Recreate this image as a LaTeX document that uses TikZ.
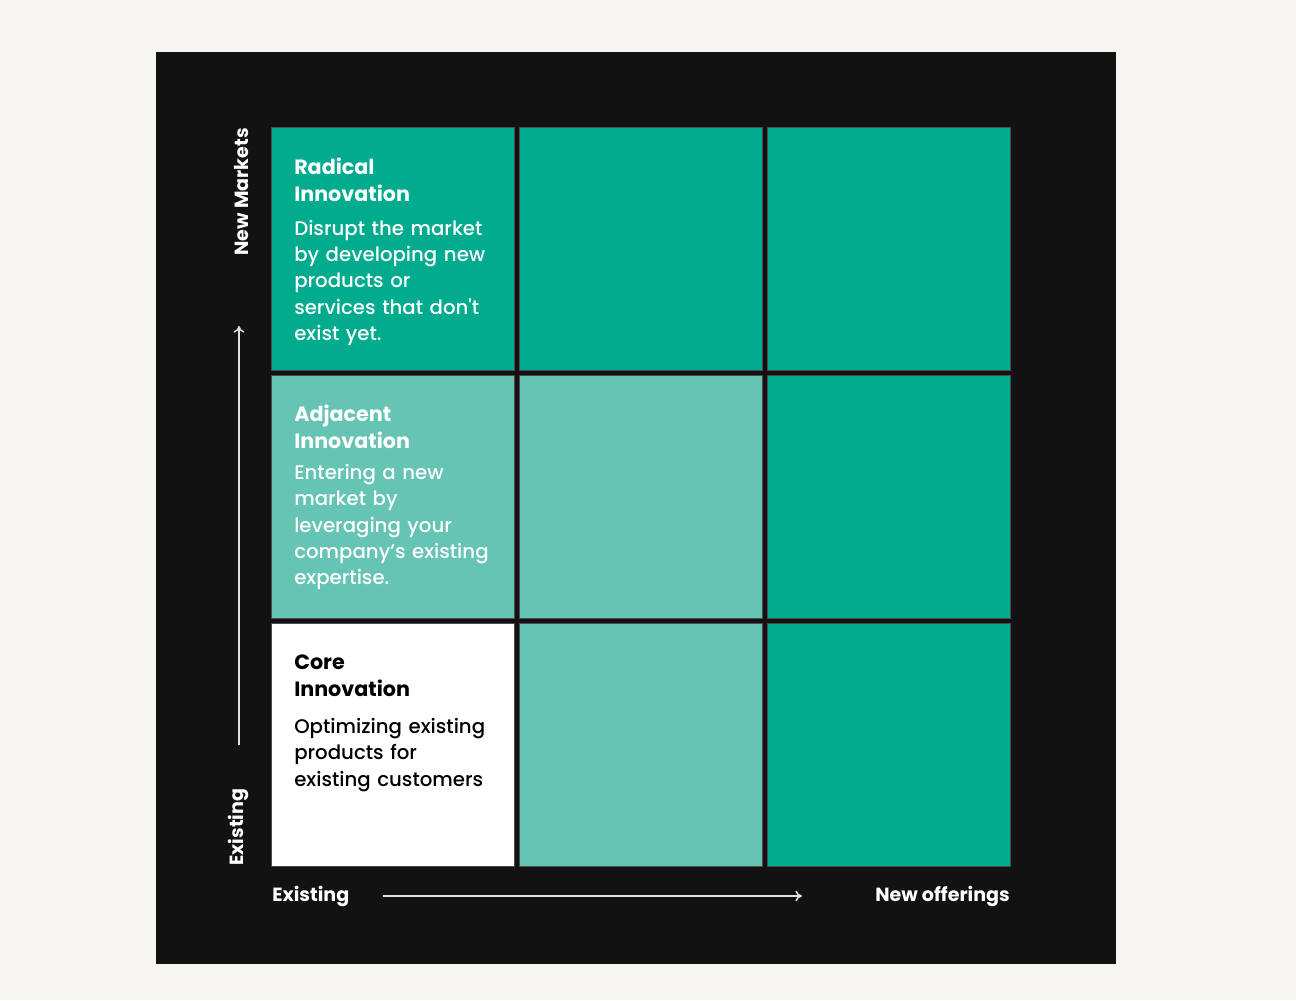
\documentclass[tikz,border=0pt]{standalone}
\usepackage{fontspec}
\setmainfont{Poppins}
\newfontfamily\bodyfont{Poppins Medium}
\usetikzlibrary{arrows.meta}
\definecolor{bgc}{HTML}{F8F6F1}
\definecolor{panel}{HTML}{121212}
\definecolor{dgreen}{HTML}{00AB8E}
\definecolor{lgreen}{HTML}{65C4B3}
\definecolor{arrowc}{HTML}{E0E0E0}
\begin{document}
\begin{tikzpicture}[x=0.75pt,y=-0.75pt,
  cell/.style={draw=black!70,line width=0.6pt,inner sep=0pt,minimum width=243*0.75pt,minimum height=243*0.75pt,anchor=north west},
  ttl/.style={anchor=north west,inner sep=0pt,align=left,text width=220*0.75pt,font={\fontsize{15.5}{20.2}\selectfont\bfseries}},
  body/.style={anchor=north west,inner sep=0pt,align=left,text width=225*0.75pt,font={\bodyfont\fontsize{14.8}{19.7}\selectfont}},
  axlab/.style={inner sep=0pt,text=white,font={\fontsize{14.3}{17}\selectfont\bfseries}},
  axarrow/.style={draw=arrowc,line width=1.1pt,-{To[length=5pt,width=8pt]}}]
\useasboundingbox (0,0) rectangle (1296,1000);
\fill[bgc] (0,0) rectangle (1296,1000);
\fill[panel] (156,52) rectangle (1116,964);
% cells
\node[cell,fill=dgreen] (c13) at (271,127) {};
\node[cell,fill=dgreen] (c23) at (519,127) {};
\node[cell,fill=dgreen] (c33) at (767,127) {};
\node[cell,fill=lgreen] (c12) at (271,375) {};
\node[cell,fill=lgreen] (c22) at (519,375) {};
\node[cell,fill=dgreen] (c32) at (767,375) {};
\node[cell,fill=white] (c11) at (271,623) {};
\node[cell,fill=lgreen] (c21) at (519,623) {};
\node[cell,fill=dgreen] (c31) at (767,623) {};
% texts
\node[ttl,text=white] (t13) at (294,158) {Radical\\Innovation};
\node[body,text=white] (b13) at (294,220) {Disrupt the market\\by developing new\\products or\\services that don{\char"0027}t\\exist yet.};
\node[ttl,text=white] (t12) at (294,405) {Adjacent\\Innovation};
\node[body,text=white] (b12) at (294,464) {Entering a new\\market by\\leveraging your\\company’s existing\\expertise.};
\node[ttl,text=black] (t11) at (294,655) {Core\\Innovation};
\node[body,text=black] (b11) at (294,718) {Optimizing existing\\products for\\existing customers};
% axis labels
\node[axlab,rotate=90,anchor=south east] (ynew) at (249,128) {New Markets};
\node[axlab,rotate=90,anchor=south west] (yex) at (249,866) {Existing};
\node[axlab,anchor=west] (xex) at (272,896) {Existing};
\node[axlab,anchor=east] (xnew) at (1010,896) {New offerings};
% arrows
\coordinate (ya) at (239,745);
\coordinate (yb) at (239,326);
\coordinate (xa) at (383,896);
\coordinate (xb) at (802,896);
\draw[axarrow] (ya) -- (yb);
\draw[axarrow] (xa) -- (xb);
\end{tikzpicture}
\end{document}
